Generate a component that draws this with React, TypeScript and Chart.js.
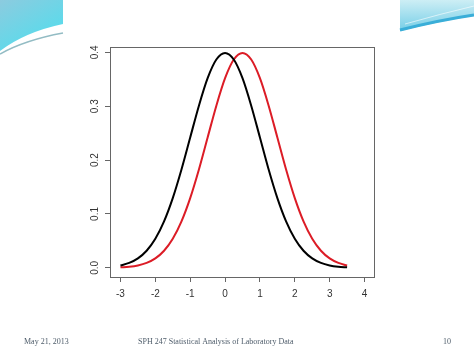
import React, { useEffect, useRef } from "react";
import { Chart, registerables } from "chart.js";

Chart.register(...registerables);

const xValues = [-3, -2.75, -2.5, -2.25, -2, -1.75, -1.5, -1.25, -1, -0.75, -0.5, -0.25, 0, 0.25, 0.5, 0.75, 1, 1.25, 1.5, 1.75, 2, 2.25, 2.5, 2.75, 3, 3.25, 3.5];
const blackDensity = [0.0044, 0.0091, 0.0175, 0.0317, 0.054, 0.0863, 0.1295, 0.1826, 0.242, 0.3011, 0.3521, 0.3867, 0.3989, 0.3867, 0.3521, 0.3011, 0.242, 0.1826, 0.1295, 0.0863, 0.054, 0.0317, 0.0175, 0.0091, 0.0044, 0.002, 0.0009];
const redDensity = [0.0009, 0.002, 0.0044, 0.0091, 0.0175, 0.0317, 0.054, 0.0863, 0.1295, 0.1826, 0.242, 0.3011, 0.3521, 0.3867, 0.3989, 0.3867, 0.3521, 0.3011, 0.242, 0.1826, 0.1295, 0.0863, 0.054, 0.0317, 0.0175, 0.0091, 0.0044];
const xTicks = [-3, -2, -1, 0, 1, 2, 3, 4];
const yTicks = [0, 0.1, 0.2, 0.3, 0.4];
const yTickLabels = ["0.0", "0.1", "0.2", "0.3", "0.4"];
const footerDate = "May 21, 2013";
const footerTitle = "SPH 247 Statistical Analysis of Laboratory Data";
const footerPage = "10";

const slidePlugin = {
  id: "slide",
  beforeDraw(chart: any) {
    const ctx = chart.ctx;
    ctx.save();
    ctx.fillStyle = "#ffffff";
    ctx.fillRect(0, 0, chart.width, chart.height);

    // top-left swoosh
    let g = ctx.createLinearGradient(0, 0, 30, 52);
    g.addColorStop(0, "#8ccbdf");
    g.addColorStop(1, "#57dcec");
    ctx.beginPath();
    ctx.moveTo(0, 0);
    ctx.lineTo(63, 0);
    ctx.lineTo(63, 24);
    ctx.quadraticCurveTo(25, 32, 0, 51);
    ctx.closePath();
    ctx.fillStyle = g;
    ctx.fill();
    ctx.beginPath();
    ctx.moveTo(0, 54);
    ctx.quadraticCurveTo(25, 40, 63, 33);
    ctx.strokeStyle = "#93bcc4";
    ctx.lineWidth = 1.5;
    ctx.stroke();

    // top-right swoosh
    g = ctx.createLinearGradient(0, 0, 0, 32);
    g.addColorStop(0, "#cdeef5");
    g.addColorStop(1, "#72cde6");
    ctx.beginPath();
    ctx.moveTo(400, 0);
    ctx.lineTo(474, 0);
    ctx.lineTo(474, 16);
    ctx.quadraticCurveTo(440, 21, 400, 31);
    ctx.closePath();
    ctx.fillStyle = g;
    ctx.fill();
    ctx.beginPath();
    ctx.moveTo(474, 15);
    ctx.quadraticCurveTo(440, 20, 400, 30);
    ctx.strokeStyle = "#3aaed8";
    ctx.lineWidth = 3;
    ctx.stroke();
    ctx.beginPath();
    ctx.moveTo(474, 6);
    ctx.quadraticCurveTo(440, 14, 405, 24);
    ctx.strokeStyle = "rgba(255,255,255,0.6)";
    ctx.lineWidth = 1;
    ctx.stroke();
    ctx.restore();
  },
  afterDraw(chart: any) {
    const ctx = chart.ctx;
    const a = chart.chartArea;
    const ys = chart.scales.y;
    ctx.save();
    ctx.strokeStyle = "#666666";
    ctx.lineWidth = 1;
    ctx.strokeRect(a.left + 0.5, a.top + 0.5, a.right - a.left - 1, a.bottom - a.top);

    ctx.fillStyle = "#333333";
    ctx.font = "10px 'Liberation Sans', Arial, sans-serif";
    ctx.textAlign = "center";
    ctx.textBaseline = "middle";
    yTicks.forEach((v, i) => {
      const y = ys.getPixelForValue(v);
      ctx.save();
      ctx.translate(95, y);
      ctx.rotate(-Math.PI / 2);
      ctx.fillText(yTickLabels[i], 0, 0);
      ctx.restore();
    });

    ctx.fillStyle = "#4e5c6a";
    ctx.font = "8px 'Liberation Serif', 'Times New Roman', serif";
    ctx.textBaseline = "middle";
    ctx.textAlign = "left";
    ctx.fillText(footerDate, 24, 342);
    ctx.fillText(footerTitle, 138, 342);
    ctx.fillText(footerPage, 443, 342);
    ctx.restore();
  },
};

export default function App() {
  const ref = useRef<HTMLCanvasElement>(null);
  useEffect(() => {
    if (!ref.current) return;
    const chart = new Chart(ref.current, {
      type: "line",
      data: {
        datasets: [
          {
            label: "N(0,1)",
            data: xValues.map((x, i) => ({ x, y: blackDensity[i] })),
            borderColor: "#000000",
            borderWidth: 2,
            pointRadius: 0,
            cubicInterpolationMode: "monotone",
            fill: false,
          },
          {
            label: "N(0.5,1)",
            data: xValues.map((x, i) => ({ x, y: redDensity[i] })),
            borderColor: "#dc1c26",
            borderWidth: 2,
            pointRadius: 0,
            cubicInterpolationMode: "monotone",
            fill: false,
          },
        ],
      },
      options: {
        responsive: false,
        animation: false,
        devicePixelRatio: 1,
        layout: { padding: { left: 0, top: 47, right: 99, bottom: 0 } },
        plugins: { legend: { display: false }, tooltip: { enabled: false } },
        scales: {
          x: {
            type: "linear",
            min: -3.3,
            max: 4.3,
            afterBuildTicks: (s: any) => {
              s.ticks = xTicks.map((v) => ({ value: v }));
            },
            afterFit: (s: any) => {
              s.height = 78;
            },
            grid: { drawOnChartArea: false, drawTicks: true, tickLength: 5, color: "#666666" },
            border: { display: false },
            ticks: {
              color: "#333333",
              font: { family: "'Liberation Sans', Arial, sans-serif", size: 10 },
              padding: 6,
              maxRotation: 0,
              autoSkip: false,
            },
          },
          y: {
            type: "linear",
            min: -0.017,
            max: 0.41,
            afterBuildTicks: (s: any) => {
              s.ticks = yTicks.map((v) => ({ value: v }));
            },
            afterFit: (s: any) => {
              s.width = 110;
            },
            grid: { drawOnChartArea: false, drawTicks: true, tickLength: 5, color: "#666666" },
            border: { display: false },
            ticks: { display: false },
          },
        },
      },
      plugins: [slidePlugin],
    });
    return () => chart.destroy();
  }, []);
  return (
    <div style={{ position: "absolute", left: 0, top: 0, width: 474, height: 355 }}>
      <canvas ref={ref} width={474} height={355} style={{ display: "block" }} />
    </div>
  );
}
